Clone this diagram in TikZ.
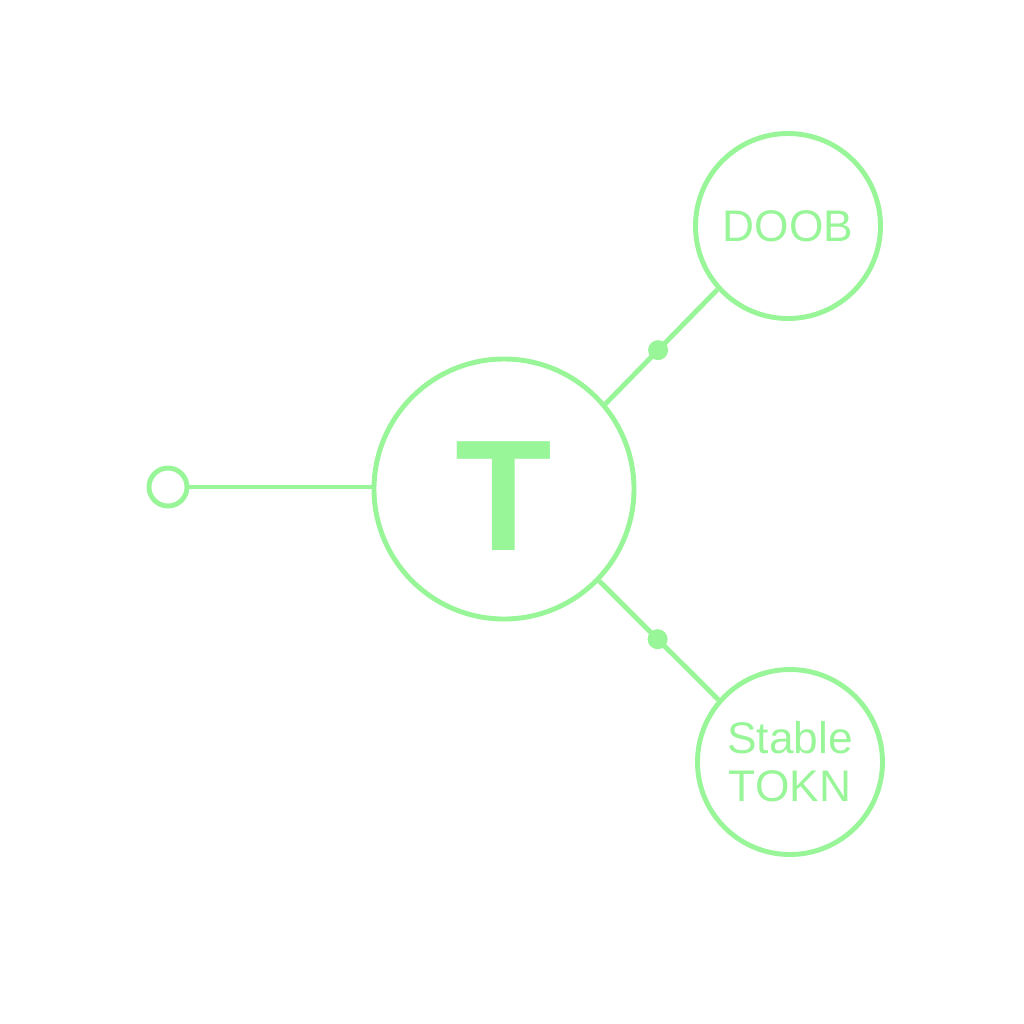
\documentclass[tikz,border=0pt]{standalone}
\usepackage{fontspec}
\setmainfont{Liberation Sans}
\usepackage{xcolor}
\usetikzlibrary{positioning}

\definecolor{mint}{RGB}{152,245,152}

\begin{document}
\begin{tikzpicture}[
    hub/.style={circle, draw=mint, line width=1.4pt, minimum size=2.6cm, inner sep=0pt,
                text=mint, font=\fontsize{45}{45}\selectfont\bfseries},
    token/.style={circle, draw=mint, line width=1.4pt, minimum size=1.85cm, inner sep=0pt,
                  text=mint, align=center, font=\fontsize{12.6}{13.6}\selectfont},
    port/.style={circle, draw=mint, line width=1.4pt, minimum size=0.38cm, inner sep=0pt},
    joint/.style={circle, fill=mint, minimum size=0.2cm, inner sep=0pt},
    link/.style={draw=mint, line width=1.4pt}
]

\useasboundingbox (0,0) rectangle (10.24,-10.24);

% Central node
\node[hub] (tnode) at (5.04, -4.89) {};
\node[text=mint, font=\fontsize{45}{45}\selectfont\bfseries] (tlabel) at (5.04, -4.96) {T};

% Outer nodes
\node[token] (doob) at (7.88, -2.26) {\raisebox{-1.2pt}{DOOB}};
\node[token] (stable) at (7.90, -7.62) {\raisebox{-3pt}{Stable}\\\raisebox{-3pt}{TOKN}};
\node[port] (input) at (1.68, -4.87) {};

% Links with joints
\draw[link] (input) -- (input -| tnode.west);
\draw[link] (tnode.40) -- node[joint, pos=0.47] (jup) {} (doob.222);
\draw[link] (tnode.-44) -- node[joint, pos=0.49] (jdown) {} (stable.139);

\end{tikzpicture}
\end{document}
